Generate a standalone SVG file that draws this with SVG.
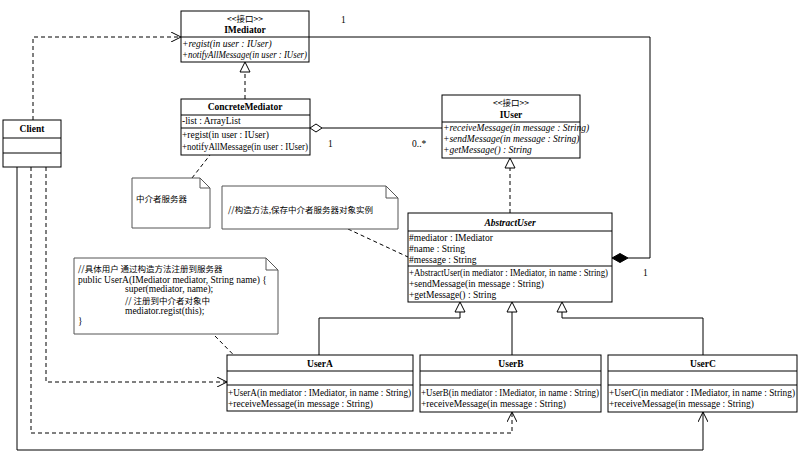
<svg xmlns="http://www.w3.org/2000/svg" width="800" height="456" viewBox="0 0 800 456">
<style>
text{font-family:"Liberation Serif","Noto Sans CJK SC",serif;font-size:9.5px;fill:#000}
.b{font-weight:bold}
.i{font-style:italic}
.c{text-anchor:middle}
.box{fill:#fff;stroke:#000;stroke-width:1}
.ln{fill:none;stroke:#000;stroke-width:1}
.d{stroke-dasharray:4,3}
.note{fill:#fff;stroke:#555;stroke-width:1}
.cj{font-family:"Noto Sans CJK SC",sans-serif;font-size:8.5px}
</style>
<defs>
<marker id="open" viewBox="0 0 10 10" refX="10" refY="5" markerWidth="10" markerHeight="10" markerUnits="userSpaceOnUse" orient="auto"><path d="M0,0 L10,5 L0,10" fill="none" stroke="#000"/></marker>
</defs>
<rect width="800" height="456" fill="#fff"/>
<g id="connectors">
<path class="ln d" d="M33,120 V37 H181" marker-end="url(#open)"/>
<path class="ln" d="M309,37 H650 V258 H628"/>
<path class="ln d" d="M245,99 V72"/>
<path class="ln" d="M322,128 H442"/>
<path class="ln d" d="M510,213 V168"/>
<path class="ln" d="M460,312 V318 H319 V355"/>
<path class="ln" d="M512,312 V355"/>
<path class="ln" d="M562,312 V318 H703 V355"/>
<path class="ln d" d="M46,167 V382 H227" marker-end="url(#open)"/>
<path class="ln d" d="M31,167 V433 H512 V412" marker-end="url(#open)"/>
<path class="ln" d="M17,167 V450 H703 V412" marker-end="url(#open)"/>
<path class="ln d" d="M192,178 L210,155"/>
<path class="ln d" d="M348,229 L408,257"/>
<path class="ln d" d="M215,336 L268,390"/>
<path d="M245,62 L250,72 L240,72 Z" fill="#fff" stroke="#000"/>
<path d="M510,158 L515,168 L505,168 Z" fill="#fff" stroke="#000"/>
<path d="M460,302 L465,312 L455,312 Z" fill="#fff" stroke="#000"/>
<path d="M512,302 L517,312 L507,312 Z" fill="#fff" stroke="#000"/>
<path d="M562,302 L567,312 L557,312 Z" fill="#fff" stroke="#000"/>
<path d="M310,128 L316,124 L322,128 L316,132 Z" fill="#fff" stroke="#000"/>
<path d="M612,258 L620,253.5 L628,258 L620,262.5 Z" fill="#000" stroke="#000"/>
<text x="341" y="23">1</text>
<text x="328" y="147">1</text>
<text x="412" y="147">0..*</text>
<text x="643" y="276">1</text>
</g>
<g id="IMediator">
<rect class="box" x="181" y="11" width="128" height="51"/>
<line class="ln" x1="181" y1="37" x2="309" y2="37"/>
<text class="c cj" x="245" y="22">&lt;&lt;接口&gt;&gt;</text>
<text class="c b" x="245" y="33">IMediator</text>
<text class="i" x="182" y="47">+regist(in user : IUser)</text>
<text class="i" x="182" y="58" textLength="125" lengthAdjust="spacingAndGlyphs">+notifyAllMessage(in user : IUser)</text>
</g>
<g id="ConcreteMediator">
<rect class="box" x="181" y="99" width="129" height="56"/>
<line class="ln" x1="181" y1="115" x2="310" y2="115"/>
<line class="ln" x1="181" y1="128" x2="310" y2="128"/>
<text class="c b" x="245" y="110">ConcreteMediator</text>
<text x="182" y="124">-list : ArrayList</text>
<text x="182" y="138">+regist(in user : IUser)</text>
<text x="182" y="150" textLength="126" lengthAdjust="spacingAndGlyphs">+notifyAllMessage(in user : IUser)</text>
</g>
<g id="IUser">
<rect class="box" x="442" y="95" width="138" height="63"/>
<line class="ln" x1="442" y1="122" x2="580" y2="122"/>
<text class="c cj" x="511" y="106">&lt;&lt;接口&gt;&gt;</text>
<text class="c b" x="511" y="118">IUser</text>
<text class="i" x="443" y="131">+receiveMessage(in message : String)</text>
<text class="i" x="443" y="142">+sendMessage(in message : String)</text>
<text class="i" x="443" y="153">+getMessage() : String</text>
</g>
<g id="AbstractUser">
<rect class="box" x="408" y="213" width="204" height="89"/>
<line class="ln" x1="408" y1="231" x2="612" y2="231"/>
<line class="ln" x1="408" y1="266" x2="612" y2="266"/>
<text class="c b i" x="510" y="226">AbstractUser</text>
<text x="409" y="241">#mediator : IMediator</text>
<text x="409" y="252">#name : String</text>
<text x="409" y="263">#message : String</text>
<text x="409" y="276" textLength="199" lengthAdjust="spacingAndGlyphs">+AbstractUser(in mediator : IMediator, in name : String)</text>
<text x="409" y="287">+sendMessage(in message : String)</text>
<text x="409" y="298">+getMessage() : String</text>
</g>
<g id="Client">
<rect class="box" x="3" y="120" width="58" height="47"/>
<line class="ln" x1="3" y1="138" x2="61" y2="138"/>
<line class="ln" x1="3" y1="153" x2="61" y2="153"/>
<text class="c b" x="32" y="132">Client</text>
</g>
<g id="UserA">
<rect class="box" x="227" y="355" width="186" height="56"/>
<line class="ln" x1="227" y1="371" x2="413" y2="371"/>
<line class="ln" x1="227" y1="385" x2="413" y2="385"/>
<text class="c b" x="320" y="367">UserA</text>
<text x="228" y="396" textLength="183" lengthAdjust="spacingAndGlyphs">+UserA(in mediator : IMediator, in name : String)</text>
<text x="228" y="407">+receiveMessage(in message : String)</text>
</g>
<g id="UserB">
<rect class="box" x="420" y="355" width="181" height="57"/>
<line class="ln" x1="420" y1="371" x2="601" y2="371"/>
<line class="ln" x1="420" y1="385" x2="601" y2="385"/>
<text class="c b" x="511" y="367">UserB</text>
<text x="421" y="396" textLength="178" lengthAdjust="spacingAndGlyphs">+UserB(in mediator : IMediator, in name : String)</text>
<text x="421" y="407">+receiveMessage(in message : String)</text>
</g>
<g id="UserC">
<rect class="box" x="608" y="355" width="189" height="57"/>
<line class="ln" x1="608" y1="371" x2="797" y2="371"/>
<line class="ln" x1="608" y1="385" x2="797" y2="385"/>
<text class="c b" x="703" y="367">UserC</text>
<text x="609" y="396" textLength="186" lengthAdjust="spacingAndGlyphs">+UserC(in mediator : IMediator, in name : String)</text>
<text x="609" y="407">+receiveMessage(in message : String)</text>
</g>
<g id="note1">
<path class="note" d="M132,178 H200 L210,188 V228 H132 Z M200,178 V188 H210"/>
<text class="cj" x="136" y="202">中介者服务器</text>
</g>
<g id="note2">
<path class="note" d="M222,186 H386 L398,198 V229 H222 Z M386,186 V198 H398"/>
<text class="cj" x="228" y="213">//构造方法,保存中介者服务器对象实例</text>
</g>
<g id="note3">
<path class="note" d="M74,258 H266 L278,270 V334 H74 Z M266,258 V270 H278"/>
<text class="cj" x="78" y="272">//具体用户 通过构造方法注册到服务器</text>
<text x="78" y="283">public UserA(IMediator mediator, String name) {</text>
<text x="125" y="292">super(mediator, name);</text>
<text class="cj" x="125" y="304">// 注册到中介者对象中</text>
<text x="125" y="314">mediator.regist(this);</text>
<text x="78" y="324">}</text>
</g>
</svg>
